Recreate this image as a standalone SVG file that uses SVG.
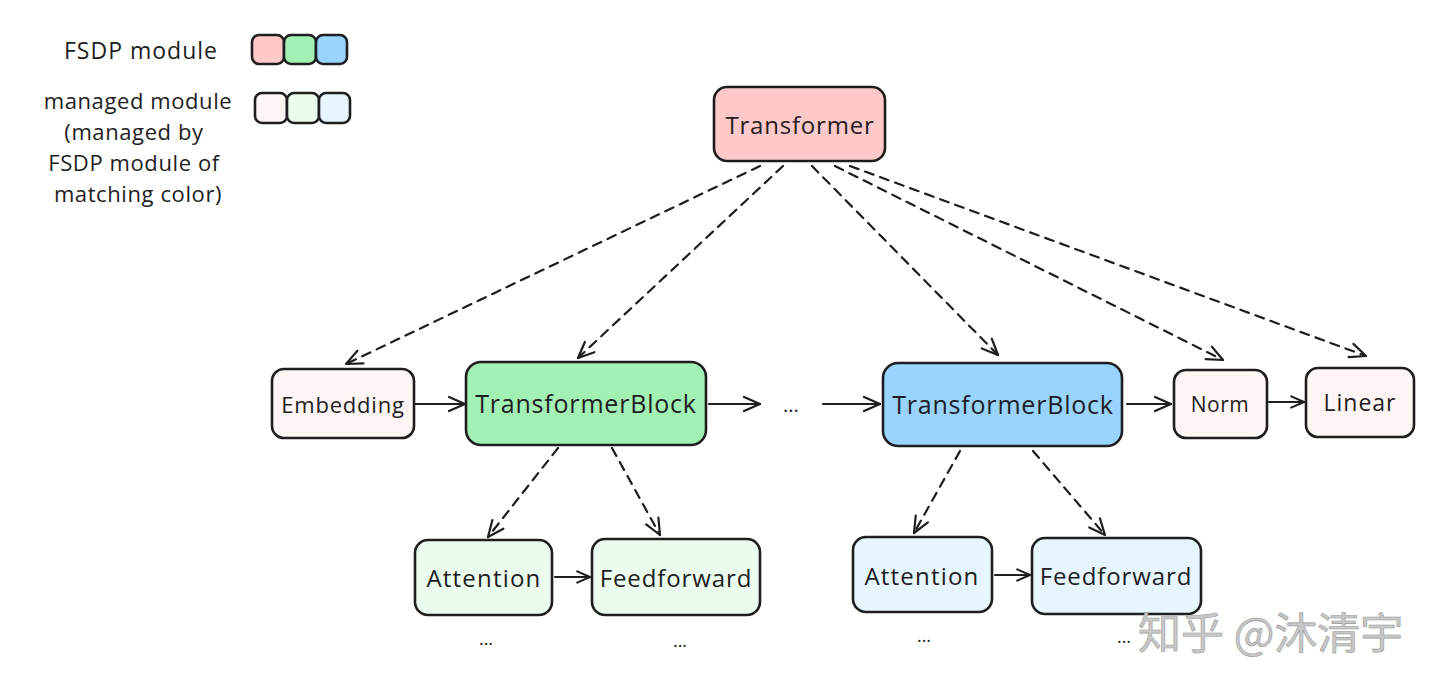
<svg xmlns="http://www.w3.org/2000/svg" width="1440" height="690" viewBox="0 0 1440 690">
<style>
.n{stroke:#1e1e1e;stroke-width:2.6}
.t{font-family:"Open Sans","Liberation Sans",sans-serif;fill:#1e1e1e;text-anchor:middle;dominant-baseline:central}
.c{fill:none;stroke:#1e1e1e;stroke-width:2.2;stroke-linecap:round}
.d{stroke-dasharray:9 7}
.red{fill:#ffc9c9}.green{fill:#a3f0b5}.blue{fill:#99d3ff}
.lred{fill:#fff5f5}.lgreen{fill:#ebfbee}.lblue{fill:#e7f5ff}
</style>
<defs>
<marker id="ah" viewBox="0 0 20 20" refX="18" refY="10" markerWidth="20" markerHeight="20" markerUnits="userSpaceOnUse" orient="auto">
<polyline points="2,3 18,10 2,17" fill="none" stroke="#1e1e1e" stroke-width="2.2" stroke-linecap="round" stroke-linejoin="round"/>
</marker>
<marker id="ahs" viewBox="0 0 20 20" refX="18" refY="10" markerWidth="16" markerHeight="16" markerUnits="userSpaceOnUse" orient="auto">
<polyline points="2,3 18,10 2,17" fill="none" stroke="#1e1e1e" stroke-width="2.6" stroke-linecap="round" stroke-linejoin="round"/>
</marker>
</defs>
<rect width="1440" height="690" fill="#ffffff"/>

<g id="legend">
<text class="t" x="141" y="50" font-size="23" letter-spacing="1">FSDP module</text>
<rect class="n red" x="252" y="35" width="32" height="29" rx="7"/>
<rect class="n green" x="284" y="35" width="32" height="29" rx="7"/>
<rect class="n blue" x="316" y="35" width="31" height="29" rx="7"/>
<text class="t" font-size="22" letter-spacing="0.6"><tspan x="138" y="100">managed module</tspan><tspan x="134" y="131">(managed by</tspan><tspan x="134" y="162">FSDP module of</tspan><tspan x="138" y="193">matching color)</tspan></text>
<rect class="n lred" x="255" y="93" width="32" height="30" rx="7"/>
<rect class="n lgreen" x="287" y="93" width="32" height="30" rx="7"/>
<rect class="n lblue" x="319" y="93" width="31" height="30" rx="7"/>
</g>

<g id="connectors">
<line class="c d" x1="760" y1="166" x2="346" y2="364" marker-end="url(#ah)"/>
<line class="c d" x1="783" y1="166" x2="578" y2="358" marker-end="url(#ah)"/>
<line class="c d" x1="812" y1="166" x2="998" y2="355" marker-end="url(#ah)"/>
<line class="c d" x1="835" y1="166" x2="1223" y2="360" marker-end="url(#ah)"/>
<line class="c d" x1="850" y1="166" x2="1366" y2="356" marker-end="url(#ah)"/>
<line class="c d" x1="558" y1="448" x2="488" y2="537" marker-end="url(#ah)"/>
<line class="c d" x1="612" y1="448" x2="660" y2="535" marker-end="url(#ah)"/>
<line class="c d" x1="960" y1="451" x2="914" y2="533" marker-end="url(#ah)"/>
<line class="c d" x1="1033" y1="451" x2="1105" y2="535" marker-end="url(#ah)"/>
<line class="c" x1="415" y1="404" x2="465" y2="404" marker-end="url(#ah)"/>
<line class="c" x1="709" y1="404" x2="760" y2="404" marker-end="url(#ah)"/>
<line class="c" x1="823" y1="404" x2="880" y2="404" marker-end="url(#ah)"/>
<line class="c" x1="1127" y1="404" x2="1171" y2="404" marker-end="url(#ah)"/>
<line class="c" x1="1269" y1="402" x2="1304" y2="402" marker-end="url(#ahs)"/>
<line class="c" x1="555" y1="577" x2="590" y2="577" marker-end="url(#ahs)"/>
<line class="c" x1="995" y1="575" x2="1030" y2="575" marker-end="url(#ahs)"/>
</g>

<g id="transformer">
<rect class="n red" x="714" y="87" width="171" height="74" rx="13"/>
<text class="t" x="800" y="124" font-size="24" letter-spacing="0.8">Transformer</text>
</g>

<g id="embedding">
<rect class="n lred" x="272" y="369" width="142" height="69" rx="12"/>
<text class="t" x="343" y="404" font-size="22" letter-spacing="0.8">Embedding</text>
</g>

<g id="block1">
<rect class="n green" x="466" y="362" width="240" height="83" rx="15"/>
<text class="t" x="586" y="403" font-size="25" letter-spacing="0.8">TransformerBlock</text>
</g>

<g id="ellipsis-mid">
<text class="t" x="791" y="404" font-size="20">...</text>
</g>

<g id="block2">
<rect class="n blue" x="883" y="363" width="239" height="83" rx="15"/>
<text class="t" x="1003" y="404" font-size="25" letter-spacing="0.8">TransformerBlock</text>
</g>

<g id="norm">
<rect class="n lred" x="1174" y="370" width="93" height="68" rx="12"/>
<text class="t" x="1220" y="404" font-size="21" letter-spacing="0.5">Norm</text>
</g>

<g id="linear">
<rect class="n lred" x="1306" y="368" width="108" height="69" rx="12"/>
<text class="t" x="1360" y="402" font-size="23" letter-spacing="1">Linear</text>
</g>

<g id="attention1">
<rect class="n lgreen" x="415" y="540" width="137" height="75" rx="13"/>
<text class="t" x="484" y="577" font-size="24" letter-spacing="1.2">Attention</text>
<text class="t" x="486" y="638" font-size="18">...</text>
</g>

<g id="feedforward1">
<rect class="n lgreen" x="592" y="539" width="168" height="76" rx="13"/>
<text class="t" x="676" y="577" font-size="24" letter-spacing="0.9">Feedforward</text>
<text class="t" x="680" y="640" font-size="18">...</text>
</g>

<g id="attention2">
<rect class="n lblue" x="853" y="537" width="139" height="75" rx="13"/>
<text class="t" x="922" y="575" font-size="24" letter-spacing="1.2">Attention</text>
<text class="t" x="924" y="635" font-size="18">...</text>
</g>

<g id="feedforward2">
<rect class="n lblue" x="1032" y="538" width="169" height="76" rx="13"/>
<text class="t" x="1116" y="575" font-size="24" letter-spacing="0.9">Feedforward</text>
<text class="t" x="1124" y="636" font-size="18">...</text>
</g>

<g id="watermark">
<text x="1138" y="649" font-size="43" font-family="'Noto Sans CJK SC',sans-serif" fill="#c8c8c8" stroke="#9a9a9a" stroke-width="0.6">知乎 @沐清宇</text>
</g>
</svg>
